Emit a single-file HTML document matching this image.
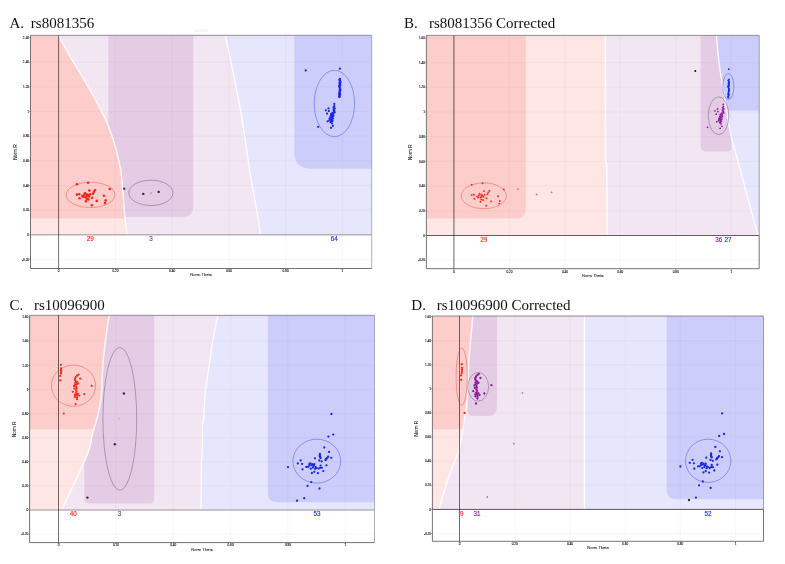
<!DOCTYPE html>
<html lang="en"><head><meta charset="utf-8"><title>Genotype cluster plots</title>
<style>
html,body{margin:0;padding:0;background:#fff}
body{width:785px;height:564px;overflow:hidden;position:relative;font-family:"Liberation Serif",serif}
svg{position:absolute;left:0;top:0;display:block}
.t{font-family:"Liberation Serif",serif;font-size:15px;fill:#111}
</style></head><body>
<svg width="785" height="564" viewBox="0 0 785 564">
<rect width="785" height="564" fill="#fff"/>
<g id="panelA">
<clipPath id="clipA"><rect x="30.5" y="35.3" width="341.2" height="199.5"/></clipPath>
<g clip-path="url(#clipA)">
<rect x="30.5" y="35.3" width="341.2" height="199.5" fill="#e6e6fd"/>
<path d="M294.3,35.3 L376.7,35.3 L376.7,168.8 L376.7,168.8 L311.3,168.8 Q294.3,168.8 294.3,151.8 Z" fill="#cdcdfb"/>
<path d="M30.5,35.3 L225.20,34.00 C227.48,45.17 235.67,84.05 238.90,101.00 C242.13,117.95 242.82,124.20 244.60,135.70 C246.38,147.20 247.65,157.92 249.60,170.00 C251.55,182.08 254.40,197.20 256.30,208.20 C258.20,219.20 260.22,231.37 261.00,236.00 L30.5,236.8 Z" fill="#f3e6f3"/>
<path d="M108.3,35.3 L193.3,35.3 L193.3,205.9 Q193.3,216.9 182.3,216.9 L114.3,216.9 Q108.3,216.9 108.3,210.9 Z" fill="#e4cde4"/>
<clipPath id="cA1"><path d="M30.5,35.3 L57.30,34.00 C57.57,34.45 56.33,32.17 58.90,36.70 C61.47,41.23 68.98,54.82 72.70,61.20 C76.42,67.58 77.63,68.98 81.20,75.00 C84.77,81.02 90.77,91.35 94.10,97.30 C97.43,103.25 99.25,106.92 101.20,110.70 C103.15,114.48 103.88,115.48 105.80,120.00 C107.72,124.52 110.73,131.85 112.70,137.80 C114.67,143.75 116.27,150.33 117.60,155.70 C118.93,161.07 119.85,164.28 120.70,170.00 C121.55,175.72 122.00,182.20 122.70,190.00 C123.40,197.80 124.17,209.13 124.90,216.80 C125.63,224.47 126.73,232.80 127.10,236.00 L30.5,236.8 Z"/></clipPath>
<path d="M30.5,35.3 L57.30,34.00 C57.57,34.45 56.33,32.17 58.90,36.70 C61.47,41.23 68.98,54.82 72.70,61.20 C76.42,67.58 77.63,68.98 81.20,75.00 C84.77,81.02 90.77,91.35 94.10,97.30 C97.43,103.25 99.25,106.92 101.20,110.70 C103.15,114.48 103.88,115.48 105.80,120.00 C107.72,124.52 110.73,131.85 112.70,137.80 C114.67,143.75 116.27,150.33 117.60,155.70 C118.93,161.07 119.85,164.28 120.70,170.00 C121.55,175.72 122.00,182.20 122.70,190.00 C123.40,197.80 124.17,209.13 124.90,216.80 C125.63,224.47 126.73,232.80 127.10,236.00 L30.5,236.8 Z" fill="#fee6e4"/>
<path d="M30.5,35.3 L126,35.3 L126,218.6 L126,218.6 L30.5,218.6 L30.5,218.6 Z" fill="#fdcdcb" clip-path="url(#cA1)"/>
</g>
<path d="M30.5,259.4H371.7 M30.5,210.2H371.7 M30.5,185.5H371.7 M30.5,160.9H371.7 M30.5,136.2H371.7 M30.5,111.6H371.7 M30.5,86.9H371.7 M30.5,62.3H371.7 M30.5,37.6H371.7 M115.4,35.3V268.5 M172.1,35.3V268.5 M228.9,35.3V268.5 M285.6,35.3V268.5 M342.4,35.3V268.5" stroke="#8080a0" stroke-opacity="0.11" stroke-width="0.6" fill="none"/>
<path d="M57.30,34.00 C57.57,34.45 56.33,32.17 58.90,36.70 C61.47,41.23 68.98,54.82 72.70,61.20 C76.42,67.58 77.63,68.98 81.20,75.00 C84.77,81.02 90.77,91.35 94.10,97.30 C97.43,103.25 99.25,106.92 101.20,110.70 C103.15,114.48 103.88,115.48 105.80,120.00 C107.72,124.52 110.73,131.85 112.70,137.80 C114.67,143.75 116.27,150.33 117.60,155.70 C118.93,161.07 119.85,164.28 120.70,170.00 C121.55,175.72 122.00,182.20 122.70,190.00 C123.40,197.80 124.17,209.13 124.90,216.80 C125.63,224.47 126.73,232.80 127.10,236.00" fill="none" stroke="#fff" stroke-opacity="0.9" stroke-width="1.35" stroke-linejoin="round"/>
<path d="M225.20,34.00 C227.48,45.17 235.67,84.05 238.90,101.00 C242.13,117.95 242.82,124.20 244.60,135.70 C246.38,147.20 247.65,157.92 249.60,170.00 C251.55,182.08 254.40,197.20 256.30,208.20 C258.20,219.20 260.22,231.37 261.00,236.00" fill="none" stroke="#fff" stroke-opacity="0.9" stroke-width="1.35" stroke-linejoin="round"/>
<path d="M30.5,234.8H371.7" stroke="#b8b0b8" stroke-width="1.5"/>
<path d="M30.5,35.3H371.7" stroke="#85808c" stroke-width="0.9" fill="none"/>
<path d="M371.7,35.3V268.5" stroke="#9a9ab0" stroke-width="0.8" fill="none"/>
<path d="M30.5,35.3V268.5H371.7" stroke="#636363" stroke-width="0.9" fill="none"/>
<path d="M58.6,35.3V268.5" stroke="#000" stroke-opacity="0.62" stroke-width="0.9"/>
<g font-family="Liberation Sans, sans-serif" font-size="3.1" fill="#000" stroke="#000" stroke-width="0.08">
<text x="29.1" y="260.6" text-anchor="end">-0.20</text>
<path d="M29.0,259.4H30.5" stroke="#555" stroke-width="0.5"/>
<text x="29.1" y="235.9" text-anchor="end">0</text>
<path d="M29.0,234.8H30.5" stroke="#555" stroke-width="0.5"/>
<text x="29.1" y="211.2" text-anchor="end">0.20</text>
<path d="M29.0,210.2H30.5" stroke="#555" stroke-width="0.5"/>
<text x="29.1" y="186.6" text-anchor="end">0.40</text>
<path d="M29.0,185.5H30.5" stroke="#555" stroke-width="0.5"/>
<text x="29.1" y="162.0" text-anchor="end">0.60</text>
<path d="M29.0,160.9H30.5" stroke="#555" stroke-width="0.5"/>
<text x="29.1" y="137.3" text-anchor="end">0.80</text>
<path d="M29.0,136.2H30.5" stroke="#555" stroke-width="0.5"/>
<text x="29.1" y="112.7" text-anchor="end">1</text>
<path d="M29.0,111.6H30.5" stroke="#555" stroke-width="0.5"/>
<text x="29.1" y="88.0" text-anchor="end">1.20</text>
<path d="M29.0,86.9H30.5" stroke="#555" stroke-width="0.5"/>
<text x="29.1" y="63.4" text-anchor="end">1.40</text>
<path d="M29.0,62.3H30.5" stroke="#555" stroke-width="0.5"/>
<text x="29.1" y="38.7" text-anchor="end">1.60</text>
<path d="M29.0,37.6H30.5" stroke="#555" stroke-width="0.5"/>
<text x="58.6" y="272.3" text-anchor="middle">0</text>
<path d="M58.6,268.5v1.5" stroke="#555" stroke-width="0.5"/>
<text x="115.4" y="272.3" text-anchor="middle">0.20</text>
<path d="M115.4,268.5v1.5" stroke="#555" stroke-width="0.5"/>
<text x="172.1" y="272.3" text-anchor="middle">0.40</text>
<path d="M172.1,268.5v1.5" stroke="#555" stroke-width="0.5"/>
<text x="228.9" y="272.3" text-anchor="middle">0.60</text>
<path d="M228.9,268.5v1.5" stroke="#555" stroke-width="0.5"/>
<text x="285.6" y="272.3" text-anchor="middle">0.80</text>
<path d="M285.6,268.5v1.5" stroke="#555" stroke-width="0.5"/>
<text x="342.4" y="272.3" text-anchor="middle">1</text>
<path d="M342.4,268.5v1.5" stroke="#555" stroke-width="0.5"/>
<text x="201.1" y="276.4" text-anchor="middle" font-size="4.1" fill="#333">Norm Theta</text>
<text transform="translate(16.5,152.1) rotate(-90)" text-anchor="middle" font-size="4.5" fill="#333">Norm R</text>
</g>
<ellipse cx="90.5" cy="194.9" rx="24.4" ry="12.7" fill="none" stroke="#ee2a1a" stroke-width="0.5" stroke-opacity="0.75" transform="rotate(0 90.5 194.9)"/>
<g fill="#ee2a1a"><circle cx="76.9" cy="184.2" r="1.3"/><circle cx="88.1" cy="182.8" r="1.3"/><circle cx="109.8" cy="189" r="1.3"/><circle cx="89.4" cy="190.6" r="1.3"/><circle cx="95" cy="190.3" r="1.3"/><circle cx="93.9" cy="191.9" r="1.3"/><circle cx="93" cy="193.7" r="1.3"/><circle cx="85" cy="193.3" r="1.3"/><circle cx="86.8" cy="194.2" r="1.3"/><circle cx="88.1" cy="195.1" r="1.3"/><circle cx="76.9" cy="194.6" r="1.3"/><circle cx="79.2" cy="194.2" r="1.3"/><circle cx="82.3" cy="196" r="1.3"/><circle cx="83.6" cy="196.9" r="1.3"/><circle cx="79.6" cy="198.2" r="1.3"/><circle cx="85.9" cy="197.3" r="1.3"/><circle cx="89" cy="196.4" r="1.3"/><circle cx="92.1" cy="197.7" r="1.3"/><circle cx="86.8" cy="199.1" r="1.3"/><circle cx="88.5" cy="199.5" r="1.3"/><circle cx="85.9" cy="201.3" r="1.3"/><circle cx="96.8" cy="200.9" r="1.3"/><circle cx="103.9" cy="195.7" r="1.3"/><circle cx="105.7" cy="200.4" r="1.3"/><circle cx="105" cy="203.1" r="1.3"/><circle cx="91.8" cy="205.2" r="1.3"/><circle cx="86.8" cy="196" r="1.3"/><circle cx="90.3" cy="194.2" r="1.3"/><circle cx="84.2" cy="195.0" r="1.3"/></g>
<ellipse cx="150.9" cy="192.85" rx="22.1" ry="12.65" fill="none" stroke="#5e2e66" stroke-width="0.5" stroke-opacity="0.75" transform="rotate(0 150.9 192.85)"/>
<g fill="#581858"><circle cx="124.2" cy="188.6" r="1.2"/><circle cx="143.3" cy="193.9" r="1.2"/><circle cx="158.7" cy="191.9" r="1.2"/></g>
<g fill="#c488b4"><circle cx="151.1" cy="193.1" r="0.85"/></g>
<ellipse cx="334.4" cy="103.5" rx="20.2" ry="33.2" fill="none" stroke="#1a2ae0" stroke-width="0.5" stroke-opacity="0.75" transform="rotate(0 334.4 103.5)"/>
<g fill="#1a2ae0"><circle cx="339.9" cy="68.7" r="1.15"/><circle cx="339.3" cy="79.8" r="1.15"/><circle cx="340.4" cy="81.4" r="1.15"/><circle cx="339.6" cy="83.4" r="1.15"/><circle cx="340.2" cy="85.2" r="1.15"/><circle cx="339.3" cy="86.8" r="1.15"/><circle cx="340.2" cy="88.5" r="1.15"/><circle cx="339.8" cy="90.8" r="1.15"/><circle cx="339.5" cy="92.6" r="1.15"/><circle cx="340.1" cy="94.3" r="1.15"/><circle cx="339.3" cy="96.1" r="1.15"/><circle cx="339.9" cy="80.6" r="1.15"/><circle cx="339.7" cy="82.4" r="1.15"/><circle cx="340.0" cy="84.3" r="1.15"/><circle cx="339.6" cy="86.0" r="1.15"/><circle cx="339.9" cy="87.7" r="1.15"/><circle cx="339.8" cy="89.6" r="1.15"/><circle cx="339.7" cy="91.7" r="1.15"/><circle cx="339.8" cy="93.4" r="1.15"/><circle cx="339.6" cy="95.2" r="1.15"/><circle cx="339.4" cy="97.0" r="1.15"/><circle cx="340.3" cy="83.0" r="1.15"/><circle cx="339.2" cy="85.6" r="1.15"/><circle cx="340.4" cy="90.0" r="1.15"/><circle cx="339.2" cy="93.9" r="1.15"/><circle cx="340.0" cy="78.9" r="1.15"/><circle cx="339.5" cy="96.6" r="1.15"/><circle cx="334.3" cy="103.9" r="1.15"/><circle cx="334.3" cy="106.2" r="1.15"/><circle cx="334.7" cy="108.4" r="1.15"/><circle cx="328.5" cy="108.4" r="1.15"/><circle cx="325.8" cy="110.3" r="1.15"/><circle cx="328.9" cy="111.1" r="1.15"/><circle cx="334.3" cy="110.6" r="1.15"/><circle cx="334.7" cy="112.4" r="1.15"/><circle cx="327.1" cy="113.7" r="1.15"/><circle cx="332.5" cy="112.8" r="1.15"/><circle cx="332.9" cy="114.6" r="1.15"/><circle cx="330.7" cy="116" r="1.15"/><circle cx="332.5" cy="116.9" r="1.15"/><circle cx="330.2" cy="117.7" r="1.15"/><circle cx="332.9" cy="118.6" r="1.15"/><circle cx="330.7" cy="119.5" r="1.15"/><circle cx="332.5" cy="120.9" r="1.15"/><circle cx="327.6" cy="121.3" r="1.15"/><circle cx="330.7" cy="122.2" r="1.15"/><circle cx="332.9" cy="125.8" r="1.15"/><circle cx="331" cy="127.8" r="1.15"/><circle cx="318.2" cy="126.8" r="1.15"/><circle cx="333.6" cy="109.5" r="1.15"/><circle cx="333.9" cy="111.5" r="1.15"/><circle cx="333.3" cy="113.6" r="1.15"/><circle cx="331.8" cy="115.3" r="1.15"/><circle cx="331.6" cy="117.3" r="1.15"/><circle cx="331.7" cy="118.9" r="1.15"/><circle cx="331.6" cy="120.2" r="1.15"/><circle cx="331.4" cy="121.4" r="1.15"/><circle cx="333.4" cy="116.0" r="1.15"/><circle cx="333.5" cy="107.3" r="1.15"/><circle cx="331.2" cy="114.0" r="1.15"/><circle cx="329.6" cy="118.6" r="1.15"/><circle cx="329.3" cy="120.4" r="1.15"/><circle cx="331.9" cy="123.4" r="1.15"/><circle cx="305.7" cy="70.4" r="1.15"/></g>
<text x="90.2" y="241.4" text-anchor="middle" font-family="Liberation Sans, sans-serif" font-size="6.3" fill="#ee2a1a" stroke="#ee2a1a" stroke-width="0.18" stroke-opacity="0.7">29</text>
<text x="150.9" y="241.4" text-anchor="middle" font-family="Liberation Sans, sans-serif" font-size="6.3" fill="#7a3a88" stroke="#7a3a88" stroke-width="0.18" stroke-opacity="0.7">3</text>
<text x="334.2" y="241.4" text-anchor="middle" font-family="Liberation Sans, sans-serif" font-size="6.3" fill="#1a2ae0" stroke="#1a2ae0" stroke-width="0.18" stroke-opacity="0.7">64</text>
</g>
<text x="201" y="32" text-anchor="middle" font-family="Liberation Sans, sans-serif" font-size="3" fill="#e6e6e6">rs8081356</text>
<text class="t" x="9.5" y="28.3">A.</text><text class="t" x="30.8" y="28.3">rs8081356</text>
<g id="panelB">
<clipPath id="clipB"><rect x="426.4" y="35.4" width="332.80000000000007" height="200.1"/></clipPath>
<g clip-path="url(#clipB)">
<rect x="426.4" y="35.4" width="332.80000000000007" height="200.1" fill="#e6e6fd"/>
<rect x="426.4" y="35.4" width="332.80000000000007" height="75.19999999999999" fill="#cdcdfb"/>
<path d="M426.4,35.4 L716.30,34.00 C716.60,37.50 717.35,48.17 718.10,55.00 C718.85,61.83 719.53,66.85 720.80,75.00 C722.07,83.15 724.43,96.10 725.70,103.90 C726.97,111.70 727.37,115.85 728.40,121.80 C729.43,127.75 731.00,135.57 731.90,139.60 C732.80,143.63 732.58,141.65 733.80,146.00 C735.02,150.35 736.58,155.98 739.20,165.70 C741.82,175.42 746.33,192.58 749.50,204.30 C752.67,216.02 756.75,230.72 758.20,236.00 L426.4,237.5 Z" fill="#f3e6f3"/>
<clipPath id="cB2"><path d="M426.4,35.4 L716.30,34.00 C716.60,37.50 717.35,48.17 718.10,55.00 C718.85,61.83 719.53,66.85 720.80,75.00 C722.07,83.15 724.43,96.10 725.70,103.90 C726.97,111.70 727.37,115.85 728.40,121.80 C729.43,127.75 731.00,135.57 731.90,139.60 C732.80,143.63 732.58,141.65 733.80,146.00 C735.02,150.35 736.58,155.98 739.20,165.70 C741.82,175.42 746.33,192.58 749.50,204.30 C752.67,216.02 756.75,230.72 758.20,236.00 L426.4,237.5 Z"/></clipPath>
<path d="M700.5,35.4 L731,35.4 L731,148.4 Q731,151.4 728,151.4 L706.5,151.4 Q700.5,151.4 700.5,145.4 Z" fill="#e4cde4" clip-path="url(#cB2)"/>
<path d="M426.4,35.4 L605.4,34 L605.5,162 L606.8,163.5 L607.2,236 L426.4,237.5 Z" fill="#fee6e4"/>
<path d="M426.4,35.4 L525.9,35.4 L525.9,208.5 Q525.9,218.5 515.9,218.5 L426.4,218.5 L426.4,218.5 Z" fill="#fdcdcb"/>
</g>
<path d="M426.4,260.2H759.2 M426.4,210.8H759.2 M426.4,186.1H759.2 M426.4,161.4H759.2 M426.4,136.7H759.2 M426.4,112.0H759.2 M426.4,87.3H759.2 M426.4,62.6H759.2 M426.4,37.9H759.2 M509.4,35.4V268.7 M564.9,35.4V268.7 M620.3,35.4V268.7 M675.8,35.4V268.7 M731.3,35.4V268.7" stroke="#8080a0" stroke-opacity="0.11" stroke-width="0.6" fill="none"/>
<path d="M605.4,34 L605.5,162 L606.8,163.5 L607.2,236" fill="none" stroke="#fff" stroke-opacity="0.9" stroke-width="1.4" stroke-linejoin="round"/>
<path d="M716.30,34.00 C716.60,37.50 717.35,48.17 718.10,55.00 C718.85,61.83 719.53,66.85 720.80,75.00 C722.07,83.15 724.43,96.10 725.70,103.90 C726.97,111.70 727.37,115.85 728.40,121.80 C729.43,127.75 731.00,135.57 731.90,139.60 C732.80,143.63 732.58,141.65 733.80,146.00 C735.02,150.35 736.58,155.98 739.20,165.70 C741.82,175.42 746.33,192.58 749.50,204.30 C752.67,216.02 756.75,230.72 758.20,236.00" fill="none" stroke="#fff" stroke-opacity="0.9" stroke-width="1.35" stroke-linejoin="round"/>
<path d="M426.4,235.5H759.2" stroke="#6a5a5e" stroke-width="1"/>
<path d="M426.4,35.4H759.2" stroke="#8a8088" stroke-width="0.9" fill="none"/>
<path d="M759.2,35.4V235.5" stroke="#9090a8" stroke-width="0.9" fill="none"/>
<path d="M426.4,35.4V268.7H759.2V235.5" stroke="#666" stroke-width="0.9" fill="none"/>
<path d="M453.9,35.4V268.7" stroke="#000" stroke-opacity="0.4" stroke-width="1.5"/>
<g font-family="Liberation Sans, sans-serif" font-size="3.1" fill="#000" stroke="#000" stroke-width="0.08">
<text x="425.0" y="261.3" text-anchor="end">-0.20</text>
<path d="M424.9,260.2H426.4" stroke="#555" stroke-width="0.5"/>
<text x="425.0" y="236.6" text-anchor="end">0</text>
<path d="M424.9,235.5H426.4" stroke="#555" stroke-width="0.5"/>
<text x="425.0" y="211.9" text-anchor="end">0.20</text>
<path d="M424.9,210.8H426.4" stroke="#555" stroke-width="0.5"/>
<text x="425.0" y="187.2" text-anchor="end">0.40</text>
<path d="M424.9,186.1H426.4" stroke="#555" stroke-width="0.5"/>
<text x="425.0" y="162.5" text-anchor="end">0.60</text>
<path d="M424.9,161.4H426.4" stroke="#555" stroke-width="0.5"/>
<text x="425.0" y="137.8" text-anchor="end">0.80</text>
<path d="M424.9,136.7H426.4" stroke="#555" stroke-width="0.5"/>
<text x="425.0" y="113.1" text-anchor="end">1</text>
<path d="M424.9,112.0H426.4" stroke="#555" stroke-width="0.5"/>
<text x="425.0" y="88.4" text-anchor="end">1.20</text>
<path d="M424.9,87.3H426.4" stroke="#555" stroke-width="0.5"/>
<text x="425.0" y="63.7" text-anchor="end">1.40</text>
<path d="M424.9,62.6H426.4" stroke="#555" stroke-width="0.5"/>
<text x="425.0" y="39.0" text-anchor="end">1.60</text>
<path d="M424.9,37.9H426.4" stroke="#555" stroke-width="0.5"/>
<text x="453.9" y="272.5" text-anchor="middle">0</text>
<path d="M453.9,268.7v1.5" stroke="#555" stroke-width="0.5"/>
<text x="509.4" y="272.5" text-anchor="middle">0.20</text>
<path d="M509.4,268.7v1.5" stroke="#555" stroke-width="0.5"/>
<text x="564.9" y="272.5" text-anchor="middle">0.40</text>
<path d="M564.9,268.7v1.5" stroke="#555" stroke-width="0.5"/>
<text x="620.3" y="272.5" text-anchor="middle">0.60</text>
<path d="M620.3,268.7v1.5" stroke="#555" stroke-width="0.5"/>
<text x="675.8" y="272.5" text-anchor="middle">0.80</text>
<path d="M675.8,268.7v1.5" stroke="#555" stroke-width="0.5"/>
<text x="731.3" y="272.5" text-anchor="middle">1</text>
<path d="M731.3,268.7v1.5" stroke="#555" stroke-width="0.5"/>
<text x="592.8" y="276.59999999999997" text-anchor="middle" font-size="4.1" fill="#333">Norm Theta</text>
<text transform="translate(412.4,152.24999999999997) rotate(-90)" text-anchor="middle" font-size="4.5" fill="#333">Norm R</text>
</g>
<ellipse cx="483.75" cy="195.8" rx="22.55" ry="12.9" fill="none" stroke="#ee2a1a" stroke-width="0.5" stroke-opacity="0.75" transform="rotate(0 483.75 195.8)"/>
<g fill="#ee2a1a"><circle cx="471.7" cy="184.7" r="0.95"/><circle cx="482.6" cy="183.3" r="0.95"/><circle cx="503.8" cy="189.5" r="0.95"/><circle cx="483.9" cy="191.1" r="0.95"/><circle cx="489.4" cy="190.8" r="0.95"/><circle cx="488.3" cy="192.4" r="0.95"/><circle cx="487.4" cy="194.2" r="0.95"/><circle cx="479.6" cy="193.8" r="0.95"/><circle cx="481.4" cy="194.7" r="0.95"/><circle cx="482.6" cy="195.6" r="0.95"/><circle cx="471.7" cy="195.1" r="0.95"/><circle cx="473.9" cy="194.7" r="0.95"/><circle cx="477.0" cy="196.5" r="0.95"/><circle cx="478.2" cy="197.4" r="0.95"/><circle cx="474.3" cy="198.7" r="0.95"/><circle cx="480.5" cy="197.8" r="0.95"/><circle cx="483.5" cy="196.9" r="0.95"/><circle cx="486.5" cy="198.2" r="0.95"/><circle cx="481.4" cy="199.6" r="0.95"/><circle cx="483.0" cy="200.0" r="0.95"/><circle cx="480.5" cy="201.8" r="0.95"/><circle cx="491.1" cy="201.4" r="0.95"/><circle cx="498.1" cy="196.2" r="0.95"/><circle cx="499.8" cy="200.9" r="0.95"/><circle cx="499.2" cy="203.6" r="0.95"/><circle cx="486.3" cy="205.7" r="0.95"/><circle cx="481.4" cy="196.5" r="0.95"/><circle cx="484.8" cy="194.7" r="0.95"/><circle cx="478.8" cy="195.5" r="0.95"/></g>
<g fill="#9a8a92"><circle cx="517.9" cy="189.1" r="0.9"/><circle cx="536.6" cy="194.4" r="0.9"/><circle cx="551.6" cy="192.4" r="0.9"/></g>
<ellipse cx="718.55" cy="115.75" rx="10.25" ry="18.95" fill="none" stroke="#5e2e66" stroke-width="0.5" stroke-opacity="0.75" transform="rotate(0 718.55 115.75)"/>
<g fill="#8a1a9a"><circle cx="723.3" cy="104.4" r="0.9"/><circle cx="723.3" cy="106.7" r="0.9"/><circle cx="723.7" cy="108.9" r="0.9"/><circle cx="717.6" cy="108.9" r="0.9"/><circle cx="715.0" cy="110.8" r="0.9"/><circle cx="718.0" cy="111.6" r="0.9"/><circle cx="723.3" cy="111.1" r="0.9"/><circle cx="723.7" cy="112.9" r="0.9"/><circle cx="716.2" cy="114.2" r="0.9"/><circle cx="721.5" cy="113.3" r="0.9"/><circle cx="721.9" cy="115.1" r="0.9"/><circle cx="719.8" cy="116.5" r="0.9"/><circle cx="721.5" cy="117.4" r="0.9"/><circle cx="719.3" cy="118.2" r="0.9"/><circle cx="721.9" cy="119.1" r="0.9"/><circle cx="719.8" cy="120.0" r="0.9"/><circle cx="721.5" cy="121.4" r="0.9"/><circle cx="716.7" cy="121.8" r="0.9"/><circle cx="719.8" cy="122.7" r="0.9"/><circle cx="721.9" cy="126.3" r="0.9"/><circle cx="720.1" cy="128.3" r="0.9"/><circle cx="707.5" cy="127.3" r="0.9"/><circle cx="722.6" cy="110.0" r="0.9"/><circle cx="722.9" cy="112.0" r="0.9"/><circle cx="722.3" cy="114.1" r="0.9"/><circle cx="720.8" cy="115.8" r="0.9"/><circle cx="720.6" cy="117.8" r="0.9"/><circle cx="720.7" cy="119.4" r="0.9"/><circle cx="720.6" cy="120.7" r="0.9"/><circle cx="720.4" cy="121.9" r="0.9"/><circle cx="722.4" cy="116.5" r="0.9"/><circle cx="722.5" cy="107.8" r="0.9"/><circle cx="720.3" cy="114.5" r="0.9"/><circle cx="718.7" cy="119.1" r="0.9"/><circle cx="718.4" cy="120.9" r="0.9"/><circle cx="720.9" cy="123.9" r="0.9"/></g>
<ellipse cx="728.35" cy="86.65" rx="5.55" ry="12.95" fill="none" stroke="#1a2ae0" stroke-width="0.5" stroke-opacity="0.75" transform="rotate(0 728.35 86.65)"/>
<g fill="#1a2ae0"><circle cx="728.8" cy="69.2" r="0.9"/><circle cx="728.2" cy="80.3" r="0.9"/><circle cx="729.2" cy="81.9" r="0.9"/><circle cx="728.5" cy="83.9" r="0.9"/><circle cx="729.0" cy="85.7" r="0.9"/><circle cx="728.2" cy="87.3" r="0.9"/><circle cx="729.0" cy="89.0" r="0.9"/><circle cx="728.7" cy="91.3" r="0.9"/><circle cx="728.4" cy="93.1" r="0.9"/><circle cx="729.0" cy="94.8" r="0.9"/><circle cx="728.2" cy="96.6" r="0.9"/><circle cx="728.8" cy="81.1" r="0.9"/><circle cx="728.6" cy="82.9" r="0.9"/><circle cx="728.9" cy="84.8" r="0.9"/><circle cx="728.5" cy="86.5" r="0.9"/><circle cx="728.8" cy="88.2" r="0.9"/><circle cx="728.7" cy="90.1" r="0.9"/><circle cx="728.6" cy="92.2" r="0.9"/><circle cx="728.7" cy="93.9" r="0.9"/><circle cx="728.5" cy="95.7" r="0.9"/><circle cx="728.3" cy="97.5" r="0.9"/><circle cx="729.1" cy="83.5" r="0.9"/><circle cx="728.1" cy="86.1" r="0.9"/><circle cx="729.2" cy="90.5" r="0.9"/><circle cx="728.1" cy="94.4" r="0.9"/><circle cx="728.9" cy="79.4" r="0.9"/><circle cx="728.4" cy="97.1" r="0.9"/></g>
<g fill="#111"><circle cx="695.3" cy="70.9" r="1.0"/></g>
<text x="483.8" y="241.6" text-anchor="middle" font-family="Liberation Sans, sans-serif" font-size="6.3" fill="#ee2a1a" stroke="#ee2a1a" stroke-width="0.18" stroke-opacity="0.7">29</text>
<text x="718.7" y="241.6" text-anchor="middle" font-family="Liberation Sans, sans-serif" font-size="6.3" fill="#8a1a9a" stroke="#8a1a9a" stroke-width="0.18" stroke-opacity="0.7">36</text>
<text x="727.9" y="241.6" text-anchor="middle" font-family="Liberation Sans, sans-serif" font-size="6.3" fill="#1a2ae0" stroke="#1a2ae0" stroke-width="0.18" stroke-opacity="0.7">27</text>
</g>
<text class="t" x="404.1" y="28.3">B.</text><text class="t" x="429" y="28.3">rs8081356 Corrected</text>
<g id="panelC">
<clipPath id="clipC"><rect x="29.6" y="315.3" width="344.9" height="194.7"/></clipPath>
<g clip-path="url(#clipC)">
<rect x="29.6" y="315.3" width="344.9" height="194.7" fill="#e6e6fd"/>
<path d="M267.9,315.3 L379.5,315.3 L379.5,502.2 L379.5,502.2 L276.9,502.2 Q267.9,502.2 267.9,493.2 Z" fill="#cdcdfb"/>
<path d="M29.6,315.3 L218.20,314.00 C217.32,318.43 214.78,329.43 212.90,340.60 C211.02,351.77 208.12,372.93 206.90,381.00 C205.68,389.07 206.03,384.92 205.60,389.00 C205.17,393.08 204.63,400.33 204.30,405.50 C203.97,410.67 203.92,416.42 203.60,420.00 C203.28,423.58 202.62,421.83 202.40,427.00 C202.18,432.17 202.45,445.00 202.30,451.00 C202.15,457.00 201.72,453.00 201.50,463.00 C201.28,473.00 201.08,503.00 201.00,511.00 L29.6,512 Z" fill="#f3e6f3"/>
<path d="M84.3,315.3 L154.2,315.3 L154.2,498.4 Q154.2,503.4 149.2,503.4 L89.3,503.4 Q84.3,503.4 84.3,498.4 Z" fill="#e4cde4"/>
<clipPath id="cC1"><path d="M29.6,315.3 L109.40,314.00 C108.85,317.58 107.13,327.67 106.10,335.50 C105.07,343.33 103.88,353.42 103.20,361.00 C102.52,368.58 102.37,374.65 102.00,381.00 C101.63,387.35 101.82,392.90 101.00,399.10 C100.18,405.30 98.38,412.88 97.10,418.20 C95.82,423.52 94.57,426.03 93.30,431.00 C92.03,435.97 91.17,442.48 89.50,448.00 C87.83,453.52 85.82,458.23 83.30,464.10 C80.78,469.97 77.90,475.77 74.40,483.20 C70.90,490.63 64.50,504.07 62.30,508.70 C60.10,513.33 61.38,510.62 61.20,511.00 L29.6,512 Z"/></clipPath>
<path d="M29.6,315.3 L109.40,314.00 C108.85,317.58 107.13,327.67 106.10,335.50 C105.07,343.33 103.88,353.42 103.20,361.00 C102.52,368.58 102.37,374.65 102.00,381.00 C101.63,387.35 101.82,392.90 101.00,399.10 C100.18,405.30 98.38,412.88 97.10,418.20 C95.82,423.52 94.57,426.03 93.30,431.00 C92.03,435.97 91.17,442.48 89.50,448.00 C87.83,453.52 85.82,458.23 83.30,464.10 C80.78,469.97 77.90,475.77 74.40,483.20 C70.90,490.63 64.50,504.07 62.30,508.70 C60.10,513.33 61.38,510.62 61.20,511.00 L29.6,512 Z" fill="#fee6e4"/>
<path d="M29.6,315.3 L115,315.3 L115,429.2 L115,429.2 L29.6,429.2 L29.6,429.2 Z" fill="#fdcdcb" clip-path="url(#cC1)"/>
</g>
<path d="M29.6,534.1H374.5 M29.6,485.9H374.5 M29.6,461.8H374.5 M29.6,437.7H374.5 M29.6,413.6H374.5 M29.6,389.5H374.5 M29.6,365.4H374.5 M29.6,341.3H374.5 M29.6,317.2H374.5 M115.9,315.3V542.6 M173.2,315.3V542.6 M230.6,315.3V542.6 M287.9,315.3V542.6 M345.3,315.3V542.6" stroke="#8080a0" stroke-opacity="0.11" stroke-width="0.6" fill="none"/>
<path d="M109.40,314.00 C108.85,317.58 107.13,327.67 106.10,335.50 C105.07,343.33 103.88,353.42 103.20,361.00 C102.52,368.58 102.37,374.65 102.00,381.00 C101.63,387.35 101.82,392.90 101.00,399.10 C100.18,405.30 98.38,412.88 97.10,418.20 C95.82,423.52 94.57,426.03 93.30,431.00 C92.03,435.97 91.17,442.48 89.50,448.00 C87.83,453.52 85.82,458.23 83.30,464.10 C80.78,469.97 77.90,475.77 74.40,483.20 C70.90,490.63 64.50,504.07 62.30,508.70 C60.10,513.33 61.38,510.62 61.20,511.00" fill="none" stroke="#fff" stroke-opacity="0.9" stroke-width="1.35" stroke-linejoin="round"/>
<path d="M218.20,314.00 C217.32,318.43 214.78,329.43 212.90,340.60 C211.02,351.77 208.12,372.93 206.90,381.00 C205.68,389.07 206.03,384.92 205.60,389.00 C205.17,393.08 204.63,400.33 204.30,405.50 C203.97,410.67 203.92,416.42 203.60,420.00 C203.28,423.58 202.62,421.83 202.40,427.00 C202.18,432.17 202.45,445.00 202.30,451.00 C202.15,457.00 201.72,453.00 201.50,463.00 C201.28,473.00 201.08,503.00 201.00,511.00" fill="none" stroke="#fff" stroke-opacity="0.9" stroke-width="1.35" stroke-linejoin="round"/>
<path d="M29.6,510H374.5" stroke="#b8b0b8" stroke-width="1.5"/>
<path d="M29.6,315.3H374.5" stroke="#85808c" stroke-width="0.9" fill="none"/>
<path d="M374.5,315.3V542.6" stroke="#9a9ab0" stroke-width="0.8" fill="none"/>
<path d="M29.6,315.3V542.6H374.5" stroke="#636363" stroke-width="0.9" fill="none"/>
<path d="M58.5,315.3V542.6" stroke="#000" stroke-opacity="0.62" stroke-width="0.9"/>
<g font-family="Liberation Sans, sans-serif" font-size="3.1" fill="#000" stroke="#000" stroke-width="0.08">
<text x="28.200000000000003" y="535.2" text-anchor="end">-0.20</text>
<path d="M28.1,534.1H29.6" stroke="#555" stroke-width="0.5"/>
<text x="28.200000000000003" y="511.1" text-anchor="end">0</text>
<path d="M28.1,510.0H29.6" stroke="#555" stroke-width="0.5"/>
<text x="28.200000000000003" y="487.0" text-anchor="end">0.20</text>
<path d="M28.1,485.9H29.6" stroke="#555" stroke-width="0.5"/>
<text x="28.200000000000003" y="462.9" text-anchor="end">0.40</text>
<path d="M28.1,461.8H29.6" stroke="#555" stroke-width="0.5"/>
<text x="28.200000000000003" y="438.8" text-anchor="end">0.60</text>
<path d="M28.1,437.7H29.6" stroke="#555" stroke-width="0.5"/>
<text x="28.200000000000003" y="414.7" text-anchor="end">0.80</text>
<path d="M28.1,413.6H29.6" stroke="#555" stroke-width="0.5"/>
<text x="28.200000000000003" y="390.6" text-anchor="end">1</text>
<path d="M28.1,389.5H29.6" stroke="#555" stroke-width="0.5"/>
<text x="28.200000000000003" y="366.5" text-anchor="end">1.20</text>
<path d="M28.1,365.4H29.6" stroke="#555" stroke-width="0.5"/>
<text x="28.200000000000003" y="342.4" text-anchor="end">1.40</text>
<path d="M28.1,341.3H29.6" stroke="#555" stroke-width="0.5"/>
<text x="28.200000000000003" y="318.3" text-anchor="end">1.60</text>
<path d="M28.1,317.2H29.6" stroke="#555" stroke-width="0.5"/>
<text x="58.5" y="546.4" text-anchor="middle">0</text>
<path d="M58.5,542.6v1.5" stroke="#555" stroke-width="0.5"/>
<text x="115.9" y="546.4" text-anchor="middle">0.20</text>
<path d="M115.9,542.6v1.5" stroke="#555" stroke-width="0.5"/>
<text x="173.2" y="546.4" text-anchor="middle">0.40</text>
<path d="M173.2,542.6v1.5" stroke="#555" stroke-width="0.5"/>
<text x="230.6" y="546.4" text-anchor="middle">0.60</text>
<path d="M230.6,542.6v1.5" stroke="#555" stroke-width="0.5"/>
<text x="287.9" y="546.4" text-anchor="middle">0.80</text>
<path d="M287.9,542.6v1.5" stroke="#555" stroke-width="0.5"/>
<text x="345.3" y="546.4" text-anchor="middle">1</text>
<path d="M345.3,542.6v1.5" stroke="#555" stroke-width="0.5"/>
<text x="202.05" y="550.5" text-anchor="middle" font-size="4.1" fill="#333">Norm Theta</text>
<text transform="translate(15.600000000000001,429.15000000000003) rotate(-90)" text-anchor="middle" font-size="4.5" fill="#333">Norm R</text>
</g>
<ellipse cx="73.5" cy="385.7" rx="22.1" ry="20.6" fill="none" stroke="#ee2a1a" stroke-width="0.5" stroke-opacity="0.75" transform="rotate(0 73.5 385.7)"/>
<g fill="#ee2a1a"><circle cx="60.9" cy="364.8" r="1.1"/><circle cx="61.1" cy="368.4" r="1.1"/><circle cx="61.1" cy="370.2" r="1.1"/><circle cx="61.1" cy="371.9" r="1.1"/><circle cx="60.9" cy="373.7" r="1.1"/><circle cx="60.2" cy="376" r="1.1"/><circle cx="60.3" cy="380.4" r="1.1"/><circle cx="78.5" cy="374.6" r="1.1"/><circle cx="77.1" cy="375.7" r="1.1"/><circle cx="75.8" cy="377.1" r="1.1"/><circle cx="74.9" cy="378.6" r="1.1"/><circle cx="74.9" cy="380" r="1.1"/><circle cx="75.8" cy="381.3" r="1.1"/><circle cx="77.1" cy="382.2" r="1.1"/><circle cx="78.2" cy="383.4" r="1.1"/><circle cx="76.7" cy="384.4" r="1.1"/><circle cx="74.9" cy="384.9" r="1.1"/><circle cx="74" cy="386.2" r="1.1"/><circle cx="76.2" cy="386.7" r="1.1"/><circle cx="74.4" cy="388.5" r="1.1"/><circle cx="76.7" cy="388.2" r="1.1"/><circle cx="80.2" cy="378.6" r="1.1"/><circle cx="91.7" cy="385.8" r="1.1"/><circle cx="72.8" cy="391.8" r="1.1"/><circle cx="76.7" cy="391.6" r="1.1"/><circle cx="75.8" cy="393.4" r="1.1"/><circle cx="78" cy="393.8" r="1.1"/><circle cx="84.3" cy="394.1" r="1.1"/><circle cx="74.9" cy="395.1" r="1.1"/><circle cx="77.1" cy="395.6" r="1.1"/><circle cx="79.3" cy="395.6" r="1.1"/><circle cx="74.9" cy="396.9" r="1.1"/><circle cx="77.1" cy="397.6" r="1.1"/><circle cx="77.1" cy="399.2" r="1.1"/><circle cx="75.6" cy="404.1" r="1.1"/><circle cx="76.0" cy="390.0" r="1.1"/><circle cx="75.2" cy="383.0" r="1.1"/><circle cx="76.4" cy="394.6" r="1.1"/><circle cx="63.8" cy="413.5" r="1.1"/></g>
<ellipse cx="119.8" cy="418.8" rx="16.9" ry="71.5" fill="none" stroke="#5e2e66" stroke-width="0.5" stroke-opacity="0.75" transform="rotate(0 119.8 418.8)"/>
<g fill="#581858"><circle cx="123.9" cy="393.5" r="1.2"/><circle cx="114.9" cy="444.3" r="1.2"/><circle cx="87.4" cy="497.6" r="1.2"/></g>
<g fill="#c488b4"><circle cx="119" cy="418.7" r="0.6"/></g>
<ellipse cx="316.8" cy="461.15" rx="23.9" ry="21.95" fill="none" stroke="#1a2ae0" stroke-width="0.5" stroke-opacity="0.75" transform="rotate(0 316.8 461.15)"/>
<g fill="#1a2ae0"><circle cx="331.4" cy="414" r="1.15"/><circle cx="333.3" cy="434.6" r="1.15"/><circle cx="328.4" cy="436.6" r="1.15"/><circle cx="324.3" cy="447.5" r="1.15"/><circle cx="329.1" cy="451.9" r="1.15"/><circle cx="319.9" cy="454" r="1.15"/><circle cx="319.7" cy="456.2" r="1.15"/><circle cx="320.6" cy="458" r="1.15"/><circle cx="328.2" cy="456.7" r="1.15"/><circle cx="331.3" cy="457.8" r="1.15"/><circle cx="326.4" cy="458.7" r="1.15"/><circle cx="325.5" cy="460" r="1.15"/><circle cx="315" cy="458.3" r="1.15"/><circle cx="319.3" cy="460.5" r="1.15"/><circle cx="321.7" cy="461.4" r="1.15"/><circle cx="300.7" cy="460.4" r="1.15"/><circle cx="297.8" cy="463.4" r="1.15"/><circle cx="302.1" cy="463.9" r="1.15"/><circle cx="310.3" cy="463.4" r="1.15"/><circle cx="312.1" cy="464.2" r="1.15"/><circle cx="314.3" cy="464.2" r="1.15"/><circle cx="309.4" cy="465.6" r="1.15"/><circle cx="313.5" cy="466" r="1.15"/><circle cx="320.6" cy="465.6" r="1.15"/><circle cx="326.4" cy="465.3" r="1.15"/><circle cx="306.3" cy="466.9" r="1.15"/><circle cx="308.1" cy="466.9" r="1.15"/><circle cx="315.7" cy="467.1" r="1.15"/><circle cx="316.6" cy="467.8" r="1.15"/><circle cx="320.1" cy="467.8" r="1.15"/><circle cx="321.9" cy="467.8" r="1.15"/><circle cx="310.8" cy="468.7" r="1.15"/><circle cx="315.2" cy="468.9" r="1.15"/><circle cx="302.5" cy="469.3" r="1.15"/><circle cx="288" cy="467.1" r="1.15"/><circle cx="323.3" cy="471.1" r="1.15"/><circle cx="314.3" cy="471.8" r="1.15"/><circle cx="311.9" cy="473" r="1.15"/><circle cx="317.9" cy="473.2" r="1.15"/><circle cx="311.3" cy="482.1" r="1.15"/><circle cx="307.5" cy="485.9" r="1.15"/><circle cx="319.5" cy="488.5" r="1.15"/><circle cx="304.2" cy="498.2" r="1.15"/><circle cx="311.5" cy="465.2" r="1.15"/><circle cx="313.0" cy="467.6" r="1.15"/><circle cx="320.2" cy="457.0" r="1.15"/><circle cx="325.9" cy="459.4" r="1.15"/><circle cx="319.9" cy="455.2" r="1.15"/><circle cx="314.0" cy="465.3" r="1.15"/><circle cx="327.3" cy="457.8" r="1.15"/><circle cx="318.6" cy="468.6" r="1.15"/><circle cx="309.3" cy="464.2" r="1.15"/><circle cx="297" cy="500.7" r="1.15"/></g>
<text x="73.3" y="516" text-anchor="middle" font-family="Liberation Sans, sans-serif" font-size="6.3" fill="#ee2a1a" stroke="#ee2a1a" stroke-width="0.18" stroke-opacity="0.7">40</text>
<text x="119.5" y="516" text-anchor="middle" font-family="Liberation Sans, sans-serif" font-size="6.3" fill="#7a3a88" stroke="#7a3a88" stroke-width="0.18" stroke-opacity="0.7">3</text>
<text x="316.9" y="516" text-anchor="middle" font-family="Liberation Sans, sans-serif" font-size="6.3" fill="#1a2ae0" stroke="#1a2ae0" stroke-width="0.18" stroke-opacity="0.7">53</text>
</g>
<text class="t" x="9.5" y="310.2">C.</text><text class="t" x="33.9" y="310.2">rs10096900</text>
<g id="panelD">
<clipPath id="clipD"><rect x="432.4" y="316" width="331.1" height="193.39999999999998"/></clipPath>
<g clip-path="url(#clipD)">
<rect x="432.4" y="316" width="331.1" height="193.39999999999998" fill="#e6e6fd"/>
<path d="M666.7,316 L768.5,316 L768.5,499.2 L768.5,499.2 L675.7,499.2 Q666.7,499.2 666.7,490.2 Z" fill="#cdcdfb"/>
<path d="M432.4,316 L584.5,314 L584.5,511 L432.4,511.4 Z" fill="#f3e6f3"/>
<path d="M467.6,316 L497,316 L497,407 Q497,416 488,416 L473.6,416 Q467.6,416 467.6,410 Z" fill="#e4cde4"/>
<clipPath id="cD1"><path d="M432.4,316 L473.00,314.00 C472.60,318.43 471.28,332.77 470.60,340.60 C469.92,348.43 469.38,352.32 468.90,361.00 C468.42,369.68 468.12,385.28 467.70,392.70 C467.28,400.12 466.93,401.25 466.40,405.50 C465.87,409.75 465.13,413.95 464.50,418.20 C463.87,422.45 463.52,425.70 462.60,431.00 C461.68,436.30 460.92,443.42 459.00,450.00 C457.08,456.58 453.80,462.83 451.10,470.50 C448.40,478.17 444.88,489.25 442.80,496.00 C440.72,502.75 439.30,508.50 438.60,511.00 L432.4,511.4 Z"/></clipPath>
<path d="M432.4,316 L473.00,314.00 C472.60,318.43 471.28,332.77 470.60,340.60 C469.92,348.43 469.38,352.32 468.90,361.00 C468.42,369.68 468.12,385.28 467.70,392.70 C467.28,400.12 466.93,401.25 466.40,405.50 C465.87,409.75 465.13,413.95 464.50,418.20 C463.87,422.45 463.52,425.70 462.60,431.00 C461.68,436.30 460.92,443.42 459.00,450.00 C457.08,456.58 453.80,462.83 451.10,470.50 C448.40,478.17 444.88,489.25 442.80,496.00 C440.72,502.75 439.30,508.50 438.60,511.00 L432.4,511.4 Z" fill="#fee6e4"/>
<path d="M432.4,316 L480,316 L480,429.2 L480,429.2 L432.4,429.2 L432.4,429.2 Z" fill="#fdcdcb" clip-path="url(#cD1)"/>
</g>
<path d="M432.4,533.5H763.5 M432.4,485.3H763.5 M432.4,461.2H763.5 M432.4,437.1H763.5 M432.4,413.0H763.5 M432.4,388.9H763.5 M432.4,364.8H763.5 M432.4,340.7H763.5 M432.4,316.6H763.5 M514.7,316V541.3 M569.9,316V541.3 M625.1,316V541.3 M680.3,316V541.3 M735.5,316V541.3" stroke="#8080a0" stroke-opacity="0.11" stroke-width="0.6" fill="none"/>
<path d="M473.00,314.00 C472.60,318.43 471.28,332.77 470.60,340.60 C469.92,348.43 469.38,352.32 468.90,361.00 C468.42,369.68 468.12,385.28 467.70,392.70 C467.28,400.12 466.93,401.25 466.40,405.50 C465.87,409.75 465.13,413.95 464.50,418.20 C463.87,422.45 463.52,425.70 462.60,431.00 C461.68,436.30 460.92,443.42 459.00,450.00 C457.08,456.58 453.80,462.83 451.10,470.50 C448.40,478.17 444.88,489.25 442.80,496.00 C440.72,502.75 439.30,508.50 438.60,511.00" fill="none" stroke="#fff" stroke-opacity="0.9" stroke-width="1.35" stroke-linejoin="round"/>
<path d="M584.5,314 L584.5,511" fill="none" stroke="#fff" stroke-opacity="0.9" stroke-width="1.4" stroke-linejoin="round"/>
<path d="M432.4,509.4H763.5" stroke="#5a5560" stroke-width="1"/>
<path d="M432.4,316H763.5" stroke="#8a8088" stroke-width="0.9" fill="none"/>
<path d="M763.5,316V509.4" stroke="#9090a8" stroke-width="0.9" fill="none"/>
<path d="M432.4,316V541.3H763.5V509.4" stroke="#666" stroke-width="0.9" fill="none"/>
<path d="M459.5,316V541.3" stroke="#000" stroke-opacity="0.62" stroke-width="0.9"/>
<g font-family="Liberation Sans, sans-serif" font-size="3.1" fill="#000" stroke="#000" stroke-width="0.08">
<text x="431.0" y="534.6" text-anchor="end">-0.20</text>
<path d="M430.9,533.5H432.4" stroke="#555" stroke-width="0.5"/>
<text x="431.0" y="510.5" text-anchor="end">0</text>
<path d="M430.9,509.4H432.4" stroke="#555" stroke-width="0.5"/>
<text x="431.0" y="486.4" text-anchor="end">0.20</text>
<path d="M430.9,485.3H432.4" stroke="#555" stroke-width="0.5"/>
<text x="431.0" y="462.3" text-anchor="end">0.40</text>
<path d="M430.9,461.2H432.4" stroke="#555" stroke-width="0.5"/>
<text x="431.0" y="438.2" text-anchor="end">0.60</text>
<path d="M430.9,437.1H432.4" stroke="#555" stroke-width="0.5"/>
<text x="431.0" y="414.1" text-anchor="end">0.80</text>
<path d="M430.9,413.0H432.4" stroke="#555" stroke-width="0.5"/>
<text x="431.0" y="390.0" text-anchor="end">1</text>
<path d="M430.9,388.9H432.4" stroke="#555" stroke-width="0.5"/>
<text x="431.0" y="365.9" text-anchor="end">1.20</text>
<path d="M430.9,364.8H432.4" stroke="#555" stroke-width="0.5"/>
<text x="431.0" y="341.8" text-anchor="end">1.40</text>
<path d="M430.9,340.7H432.4" stroke="#555" stroke-width="0.5"/>
<text x="431.0" y="317.7" text-anchor="end">1.60</text>
<path d="M430.9,316.6H432.4" stroke="#555" stroke-width="0.5"/>
<text x="459.5" y="545.0999999999999" text-anchor="middle">0</text>
<path d="M459.5,541.3v1.5" stroke="#555" stroke-width="0.5"/>
<text x="514.7" y="545.0999999999999" text-anchor="middle">0.20</text>
<path d="M514.7,541.3v1.5" stroke="#555" stroke-width="0.5"/>
<text x="569.9" y="545.0999999999999" text-anchor="middle">0.40</text>
<path d="M569.9,541.3v1.5" stroke="#555" stroke-width="0.5"/>
<text x="625.1" y="545.0999999999999" text-anchor="middle">0.60</text>
<path d="M625.1,541.3v1.5" stroke="#555" stroke-width="0.5"/>
<text x="680.3" y="545.0999999999999" text-anchor="middle">0.80</text>
<path d="M680.3,541.3v1.5" stroke="#555" stroke-width="0.5"/>
<text x="735.5" y="545.0999999999999" text-anchor="middle">1</text>
<path d="M735.5,541.3v1.5" stroke="#555" stroke-width="0.5"/>
<text x="597.95" y="549.1999999999999" text-anchor="middle" font-size="4.1" fill="#333">Norm Theta</text>
<text transform="translate(418.4,428.84999999999997) rotate(-90)" text-anchor="middle" font-size="4.5" fill="#333">Norm R</text>
</g>
<ellipse cx="461.7" cy="376.7" rx="5.6" ry="28.6" fill="none" stroke="#ee2a1a" stroke-width="0.5" stroke-opacity="0.75" transform="rotate(0 461.7 376.7)"/>
<g fill="#ee2a1a"><circle cx="461.8" cy="364.2" r="1.1"/><circle cx="462.0" cy="367.8" r="1.1"/><circle cx="462.0" cy="369.6" r="1.1"/><circle cx="462.0" cy="371.3" r="1.1"/><circle cx="461.8" cy="373.1" r="1.1"/><circle cx="461.1" cy="375.4" r="1.1"/><circle cx="461.2" cy="379.8" r="1.1"/><circle cx="464.6" cy="412.9" r="1.1"/></g>
<ellipse cx="478.2" cy="386.8" rx="10.4" ry="14.4" fill="none" stroke="#5e2e66" stroke-width="0.5" stroke-opacity="0.75" transform="rotate(0 478.2 386.8)"/>
<g fill="#8a1a9a"><circle cx="478.7" cy="374.0" r="1.15"/><circle cx="477.4" cy="375.1" r="1.15"/><circle cx="476.1" cy="376.5" r="1.15"/><circle cx="475.3" cy="378.0" r="1.15"/><circle cx="475.3" cy="379.4" r="1.15"/><circle cx="476.1" cy="380.7" r="1.15"/><circle cx="477.4" cy="381.6" r="1.15"/><circle cx="478.5" cy="382.8" r="1.15"/><circle cx="477.0" cy="383.8" r="1.15"/><circle cx="475.3" cy="384.3" r="1.15"/><circle cx="474.4" cy="385.6" r="1.15"/><circle cx="476.5" cy="386.1" r="1.15"/><circle cx="474.8" cy="387.9" r="1.15"/><circle cx="477.0" cy="387.6" r="1.15"/><circle cx="480.4" cy="378.0" r="1.15"/><circle cx="491.4" cy="385.2" r="1.15"/><circle cx="473.3" cy="391.2" r="1.15"/><circle cx="477.0" cy="391.0" r="1.15"/><circle cx="476.1" cy="392.8" r="1.15"/><circle cx="478.3" cy="393.2" r="1.15"/><circle cx="484.3" cy="393.5" r="1.15"/><circle cx="475.3" cy="394.5" r="1.15"/><circle cx="477.4" cy="395.0" r="1.15"/><circle cx="479.5" cy="395.0" r="1.15"/><circle cx="475.3" cy="396.3" r="1.15"/><circle cx="477.4" cy="397.0" r="1.15"/><circle cx="477.4" cy="398.6" r="1.15"/><circle cx="476.0" cy="403.5" r="1.15"/><circle cx="476.3" cy="389.4" r="1.15"/><circle cx="475.6" cy="382.4" r="1.15"/><circle cx="476.7" cy="394.0" r="1.15"/></g>
<g fill="#9a8a92"><circle cx="522.4" cy="392.9" r="0.9"/><circle cx="513.8" cy="443.7" r="0.9"/><circle cx="487.3" cy="497.0" r="0.9"/></g>
<ellipse cx="708.15" cy="460.8" rx="22.7" ry="21.6" fill="none" stroke="#1a2ae0" stroke-width="0.5" stroke-opacity="0.75" transform="rotate(0 708.15 460.8)"/>
<g fill="#1a2ae0"><circle cx="722.1" cy="413.4" r="1.15"/><circle cx="724.0" cy="434.0" r="1.15"/><circle cx="719.2" cy="436.0" r="1.15"/><circle cx="715.3" cy="446.9" r="1.15"/><circle cx="719.9" cy="451.3" r="1.15"/><circle cx="711.1" cy="453.4" r="1.15"/><circle cx="710.9" cy="455.6" r="1.15"/><circle cx="711.7" cy="457.4" r="1.15"/><circle cx="719.0" cy="456.1" r="1.15"/><circle cx="722.0" cy="457.2" r="1.15"/><circle cx="717.3" cy="458.1" r="1.15"/><circle cx="716.4" cy="459.4" r="1.15"/><circle cx="706.3" cy="457.7" r="1.15"/><circle cx="710.5" cy="459.9" r="1.15"/><circle cx="712.8" cy="460.8" r="1.15"/><circle cx="692.6" cy="459.8" r="1.15"/><circle cx="689.8" cy="462.8" r="1.15"/><circle cx="693.9" cy="463.3" r="1.15"/><circle cx="701.8" cy="462.8" r="1.15"/><circle cx="703.6" cy="463.6" r="1.15"/><circle cx="705.7" cy="463.6" r="1.15"/><circle cx="701.0" cy="465.0" r="1.15"/><circle cx="704.9" cy="465.4" r="1.15"/><circle cx="711.7" cy="465.0" r="1.15"/><circle cx="717.3" cy="464.7" r="1.15"/><circle cx="698.0" cy="466.3" r="1.15"/><circle cx="699.7" cy="466.3" r="1.15"/><circle cx="707.0" cy="466.5" r="1.15"/><circle cx="707.9" cy="467.2" r="1.15"/><circle cx="711.2" cy="467.2" r="1.15"/><circle cx="713.0" cy="467.2" r="1.15"/><circle cx="702.3" cy="468.1" r="1.15"/><circle cx="706.5" cy="468.3" r="1.15"/><circle cx="694.3" cy="468.7" r="1.15"/><circle cx="680.4" cy="466.5" r="1.15"/><circle cx="714.3" cy="470.5" r="1.15"/><circle cx="705.7" cy="471.2" r="1.15"/><circle cx="703.4" cy="472.4" r="1.15"/><circle cx="709.1" cy="472.6" r="1.15"/><circle cx="702.8" cy="481.5" r="1.15"/><circle cx="699.1" cy="485.3" r="1.15"/><circle cx="710.7" cy="487.9" r="1.15"/><circle cx="695.9" cy="497.6" r="1.15"/><circle cx="703.0" cy="464.6" r="1.15"/><circle cx="704.4" cy="467.0" r="1.15"/><circle cx="711.3" cy="456.4" r="1.15"/><circle cx="716.8" cy="458.8" r="1.15"/><circle cx="711.1" cy="454.6" r="1.15"/><circle cx="705.4" cy="464.7" r="1.15"/><circle cx="718.2" cy="457.2" r="1.15"/><circle cx="709.8" cy="468.0" r="1.15"/><circle cx="700.9" cy="463.6" r="1.15"/></g>
<g fill="#111"><circle cx="689.0" cy="500.1" r="1.15"/></g>
<text x="461.8" y="515.7" text-anchor="middle" font-family="Liberation Sans, sans-serif" font-size="6.3" fill="#ee2a1a" stroke="#ee2a1a" stroke-width="0.18" stroke-opacity="0.7">9</text>
<text x="477.1" y="515.7" text-anchor="middle" font-family="Liberation Sans, sans-serif" font-size="6.3" fill="#8a1a9a" stroke="#8a1a9a" stroke-width="0.18" stroke-opacity="0.7">31</text>
<text x="707.9" y="515.7" text-anchor="middle" font-family="Liberation Sans, sans-serif" font-size="6.3" fill="#1a2ae0" stroke="#1a2ae0" stroke-width="0.18" stroke-opacity="0.7">52</text>
</g>
<text class="t" x="411.3" y="310.2">D.</text><text class="t" x="436.8" y="310.2">rs10096900 Corrected</text>
</svg>
</body></html>
